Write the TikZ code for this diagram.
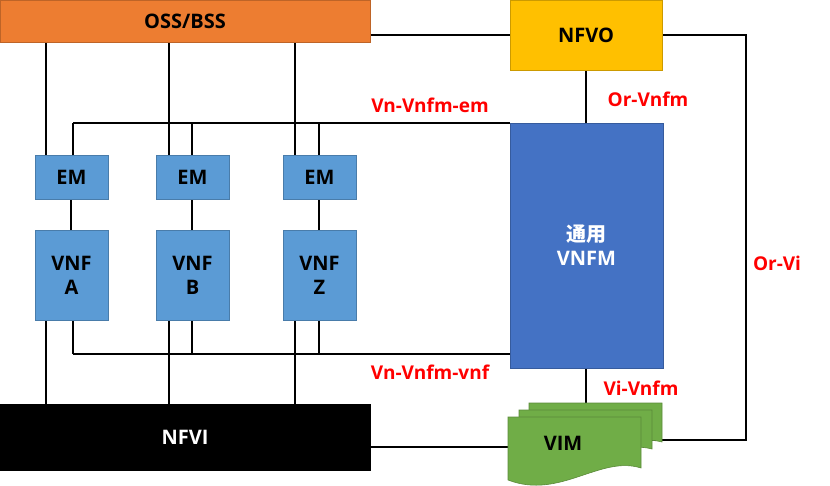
\documentclass[tikz,border=0pt]{standalone}
\usepackage{fontspec}
\setmainfont{Open Sans}
\newfontfamily\cjk{Noto Sans CJK SC}
\definecolor{orng}{HTML}{ED7D31}
\definecolor{yel}{HTML}{FFC000}
\definecolor{dblue}{HTML}{4472C4}
\definecolor{lblue}{HTML}{5B9BD5}
\definecolor{grn}{HTML}{70AD47}
\definecolor{lbl}{HTML}{FF0000}
\begin{document}
\begin{tikzpicture}[x=1pt,y=-1pt,
  box/.style={draw=#1!80!black,fill=#1,line width=0.6pt},
  txt/.style={font=\bfseries\fontsize{20}{24}\selectfont},
  lab/.style={font=\bfseries\fontsize{19}{22}\selectfont,text=lbl},
  ln/.style={line width=1.6pt}]
\useasboundingbox (0,0) rectangle (830,486);
% connectors first
\draw[ln] (370,35) -- (510,35);
\draw[ln] (662,35) -- (746,35) -- (746,440) -- (650,440);
\draw[ln] (586,70) -- (586,123);
\draw[ln] (586,368) -- (586,417);
\draw[ln] (370,447) -- (510,447);
\foreach \a/\b/\c in {46/73/71,169/192/192,295/319/319}{
  \draw[ln] (\a,42) -- (\a,155);
  \draw[ln] (\b,123) -- (\b,155);
  \draw[ln] (\b,354) -- (\b,320);
  \draw[ln] (\a,320) -- (\a,404);
  \draw[ln] (\c,199) -- (\c,230);
}
\draw[ln] (73,123) -- (510,123);
\draw[ln] (73,354) -- (510,354);
% boxes
\node[box=orng,txt,minimum width=370pt,minimum height=42pt,inner sep=0] (oss) at (185,21) {OSS/BSS};
\node[box=yel,txt,minimum width=152pt,minimum height=70pt,inner sep=0] (nfvo) at (586,35) {NFVO};
\node[box=dblue,txt,text=white,minimum width=153pt,minimum height=245pt,inner sep=0,align=center] (vnfm) at (586.5,245.5) {{\cjk 通用}\\VNFM};
\foreach \x/\l/\n in {71.5/A/a,192.5/B/b,319.5/Z/z}{
  \node[box=lblue,txt,minimum width=73pt,minimum height=44pt,inner sep=0] (em\n) at (\x,177) {EM};
  \node[box=lblue,txt,minimum width=73pt,minimum height=90pt,inner sep=0,align=center] (vnf\n) at (\x,275) {VNF\\\l};
}
\node[draw=black,fill=black,txt,text=white,minimum width=370pt,minimum height=66pt,inner sep=0] (nfvi) at (185,437) {NFVI};
% VIM multi-document
\foreach \dx/\dy in {21/-14,11/-7}{
  \draw[box=grn] (508+\dx,417+\dy) -- (641+\dx,417+\dy) -- (641+\dx,456+\dy) .. controls (600+\dx,445+\dy) and (560+\dx,490+\dy) .. (508+\dx,470+\dy) -- cycle;
}
\draw[box=grn] (508,417) -- (641,417) -- (641,468) .. controls (600,455) and (560,500) .. (508,480) -- cycle;
\node[txt] (vim) at (563,443) {VIM};
% labels
\node[lab] (l1) at (430,105) {Vn-Vnfm-em};
\node[lab] (l2) at (648,99) {Or-Vnfm};
\node[lab] (l3) at (777,263) {Or-Vi};
\node[lab] (l4) at (430,372) {Vn-Vnfm-vnf};
\node[lab] (l5) at (641,388) {Vi-Vnfm};
\end{tikzpicture}
\end{document}
